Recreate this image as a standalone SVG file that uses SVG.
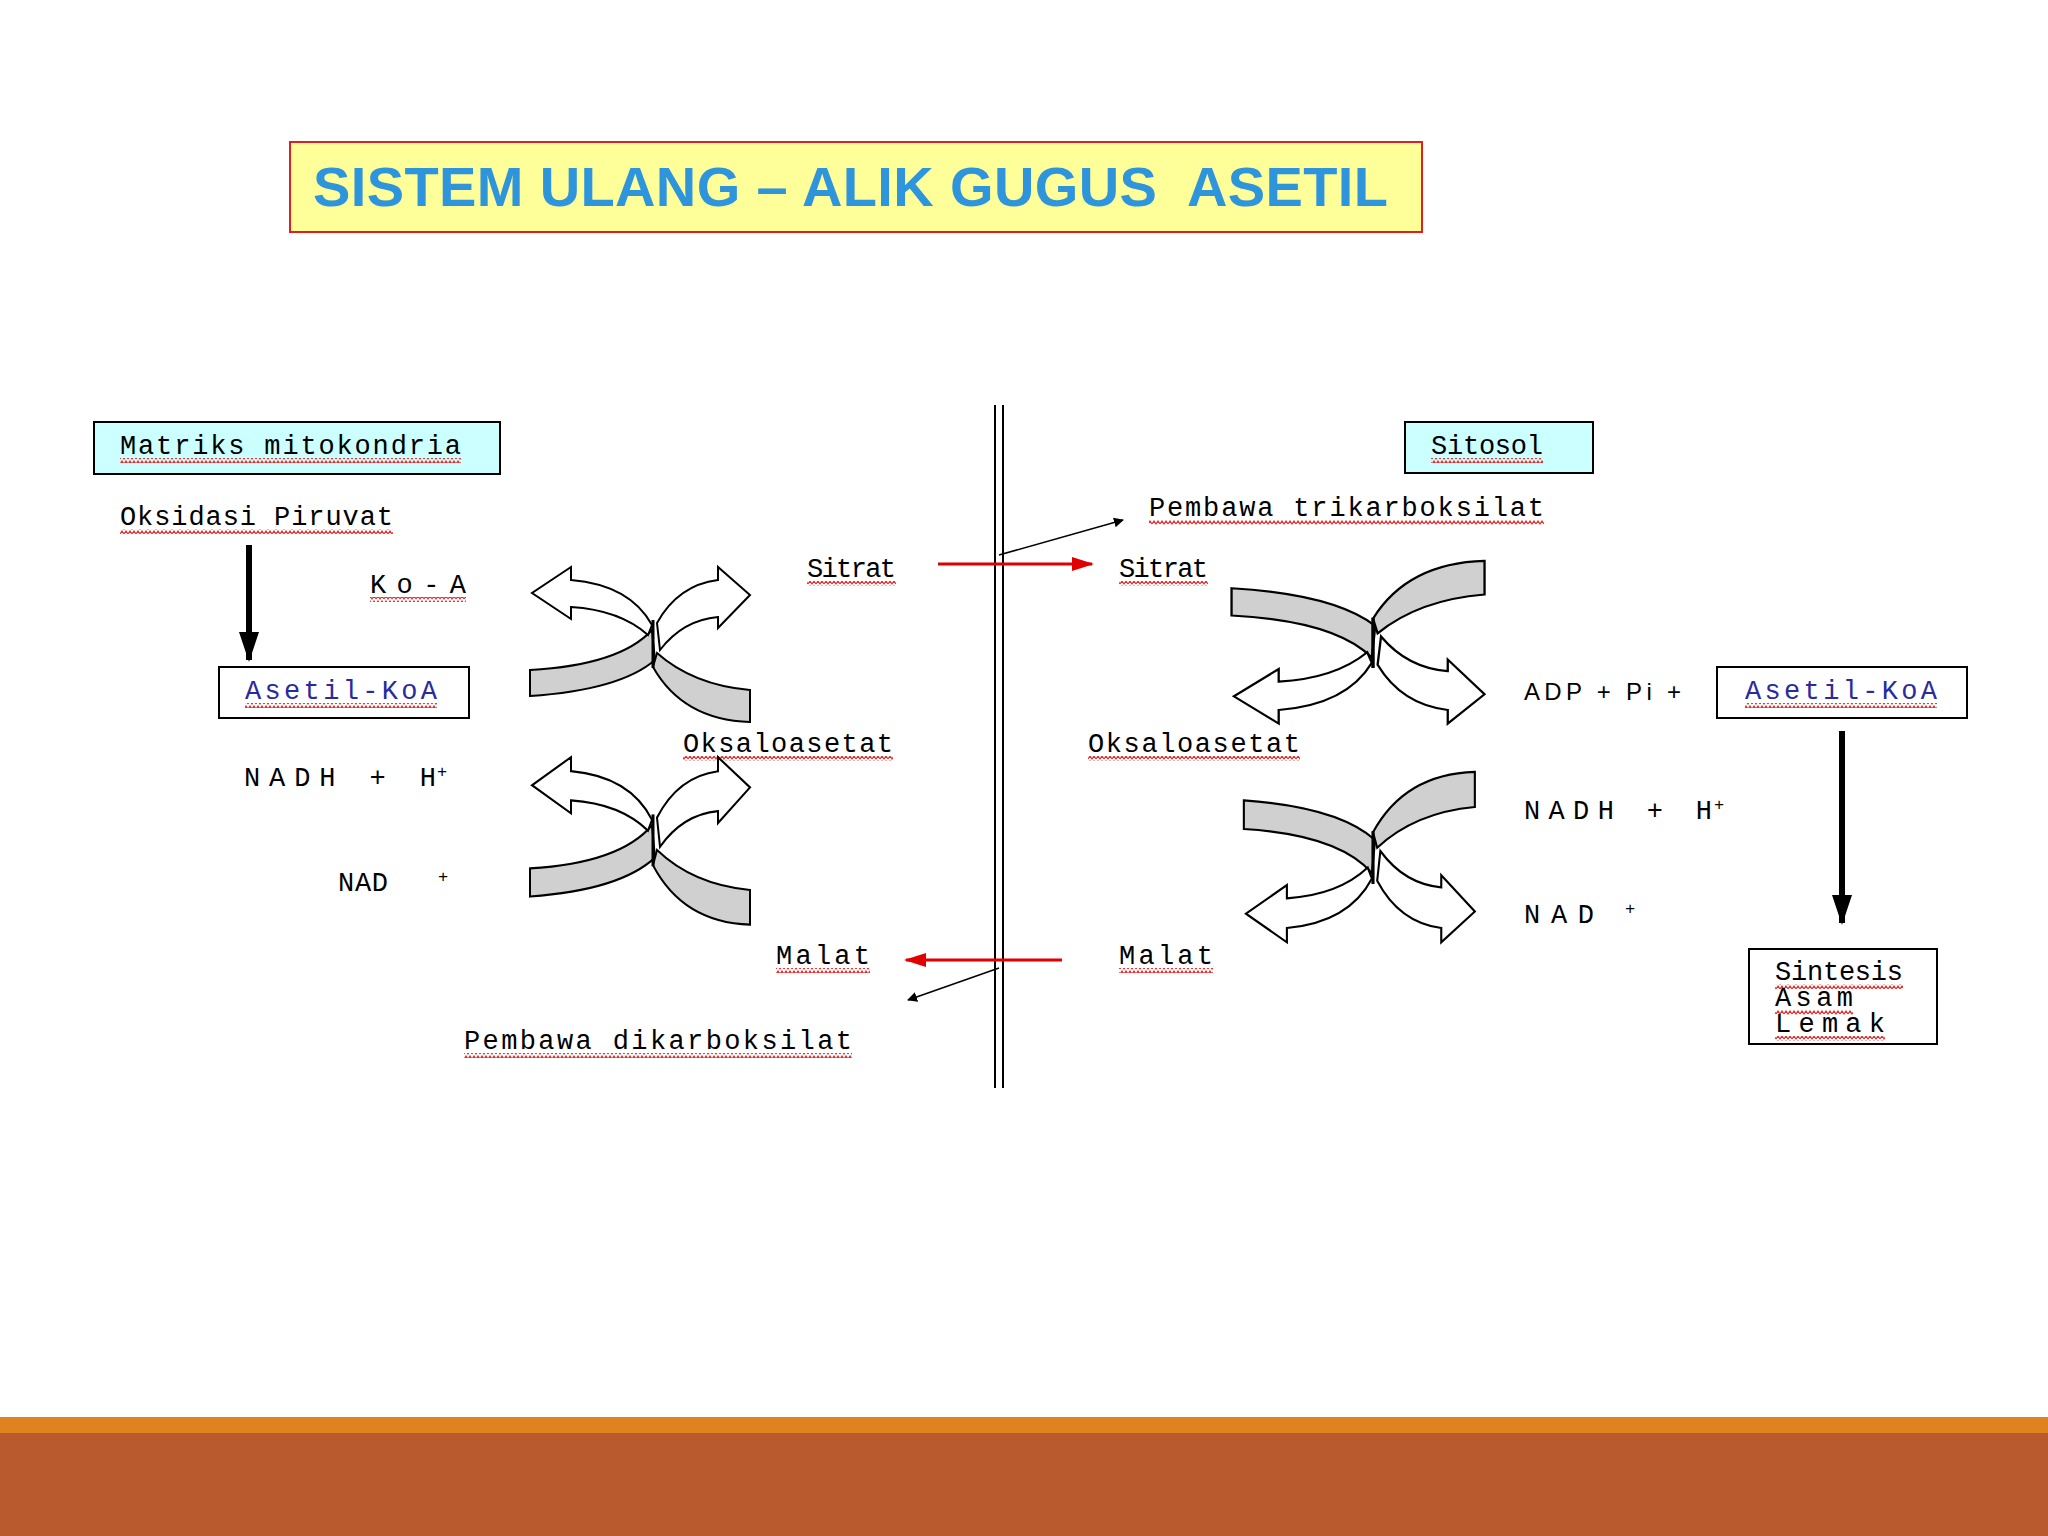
<svg xmlns="http://www.w3.org/2000/svg" width="2048" height="1536" viewBox="0 0 2048 1536">
<style>
.t{font-family:"Liberation Mono","DejaVu Sans Mono",monospace;font-size:27px;fill:#000}
.b{fill:#2a2aa0}
.p{font-family:"Liberation Mono","DejaVu Sans Mono",monospace;font-size:17px;fill:#000}
.s{font-family:"Liberation Sans",Arial,sans-serif;font-size:24px;fill:#000}
.box{fill:#ccffff;stroke:#000;stroke-width:2}
.wb{fill:#fff;stroke:#000;stroke-width:2}
.g{fill:#d0d0d0;stroke:#000;stroke-width:2}
.w{fill:#fff;stroke:#000;stroke-width:2}
.wv{fill:url(#wave)}
</style>
<defs>
<pattern id="wave" width="8" height="5" patternUnits="userSpaceOnUse">
<polyline points="0,4 2,1 4,4 6,1 8,4" fill="none" stroke="#e03030" stroke-width="1.2"/>
</pattern>
<marker id="ah" markerWidth="10" markerHeight="10" refX="9" refY="5" orient="auto" markerUnits="userSpaceOnUse"><path d="M0,0 L10,5 L0,10 Z" fill="#000"/></marker>
<marker id="ahb" markerWidth="30" markerHeight="20" refX="28" refY="10" orient="auto" markerUnits="userSpaceOnUse"><path d="M0,0 L30,10 L0,20 Z" fill="#000"/></marker>
<marker id="ahr" markerWidth="22" markerHeight="14" refX="20" refY="7" orient="auto" markerUnits="userSpaceOnUse"><path d="M0,0 L22,7 L0,14 Z" fill="#e00000"/></marker>
<g id="cross">
<path class="g" d="M -123,30 Q -33,25 -1,-10 L 2,20 Q -33,50 -123,56 Z"/>
<path class="w" d="M -1,-15 Q -23,-55 -82,-60 L -82,-73 L -121,-47 L -82,-21 L -82,-33 Q -33,-30 -5,-5 Z"/>
<path class="g" d="M 4,13 Q 40,45 97,50 L 97,82 Q 30,80 0,27 Z"/>
<path class="w" d="M 4,-17 Q 25,-55 65,-60 L 65,-73 L 97,-45 L 65,-12 L 65,-23 Q 30,-20 7,10 Z"/>
<line x1="0" y1="-20" x2="0" y2="28" stroke="#000" stroke-width="3"/>
</g>
</defs>
<rect width="2048" height="1536" fill="#fff"/>
<g id="title">
<rect x="290" y="142" width="1132" height="90" fill="#ffff99" stroke="#e02020" stroke-width="2"/>
<text x="313" y="206" font-family="Liberation Sans,Arial,sans-serif" font-weight="bold" font-size="56" fill="#2e95dc" textLength="1075">SISTEM ULANG – ALIK GUGUS&#160; ASETIL</text>
</g>
<g id="footer">
<rect x="0" y="1417" width="2048" height="16" fill="#e0821e"/>
<rect x="0" y="1433" width="2048" height="103" fill="#b95a2e"/>
</g>
<g id="membrane">
<line x1="995" y1="405" x2="995" y2="1088" stroke="#000" stroke-width="2"/>
<line x1="1003" y1="405" x2="1003" y2="1088" stroke="#000" stroke-width="2"/>
</g>
<g id="matriks"><rect class="box" x="94" y="422" width="406" height="52"/><text class="t" x="120" y="454" textLength="341">Matriks mitokondria</text><rect class="wv" x="120" y="458" width="341" height="5"/></g>
<g id="sitosol"><rect class="box" x="1405" y="422" width="188" height="51"/><text class="t" x="1431" y="454" textLength="112">Sitosol</text><rect class="wv" x="1431" y="458" width="112" height="5"/></g>
<g id="asetil-left"><rect class="wb" x="219" y="667" width="250" height="51"/><text class="t b" x="245" y="699" textLength="192">Asetil-KoA</text><rect class="wv" x="245" y="703" width="192" height="5"/></g>
<g id="asetil-right"><rect class="wb" x="1717" y="667" width="250" height="51"/><text class="t b" x="1745" y="699" textLength="192">Asetil-KoA</text><rect class="wv" x="1745" y="703" width="192" height="5"/></g>
<g id="sintesis"><rect class="wb" x="1749" y="949" width="188" height="95"/>
<text class="t" x="1775" y="980" textLength="128">Sintesis</text><rect class="wv" x="1775" y="984" width="128" height="5"/>
<text class="t" x="1775" y="1006" textLength="78">Asam</text><rect class="wv" x="1775" y="1010" width="78" height="5"/>
<text class="t" x="1775" y="1032" textLength="110">Lemak</text><rect class="wv" x="1775" y="1036" width="110" height="5"/></g>
<g id="labels">
<text class="t" x="120" y="525" textLength="273">Oksidasi Piruvat</text><rect class="wv" x="120" y="529" width="273" height="5"/>
<text class="t" x="370" y="593" textLength="96">Ko-A</text><rect class="wv" x="370" y="597" width="96" height="5"/>
<text class="t" x="807" y="577" textLength="89">Sitrat</text><rect class="wv" x="807" y="581" width="89" height="5"/>
<text class="t" x="1149" y="516" textLength="395">Pembawa trikarboksilat</text><rect class="wv" x="1149" y="520" width="395" height="5"/>
<text class="t" x="1119" y="577" textLength="89">Sitrat</text><rect class="wv" x="1119" y="581" width="89" height="5"/>
<text class="t" x="683" y="752" textLength="210">Oksaloasetat</text><rect class="wv" x="683" y="756" width="210" height="5"/>
<text class="t" x="1088" y="752" textLength="212">Oksaloasetat</text><rect class="wv" x="1088" y="756" width="212" height="5"/>
<text class="s" x="1524" y="700" textLength="157">ADP + Pi +</text>
<text class="t" x="244" y="786" textLength="192">NADH + H</text><text class="p" x="437" y="777">+</text>
<text class="t" x="338" y="891" textLength="50">NAD</text><text class="p" x="438" y="882">+</text>
<text class="t" x="1524" y="819" textLength="188">NADH + H</text><text class="p" x="1714" y="810">+</text>
<text class="t" x="1524" y="923" textLength="70">NAD</text><text class="p" x="1625" y="914">+</text>
<text class="t" x="776" y="964" textLength="94">Malat</text><rect class="wv" x="776" y="968" width="94" height="5"/>
<text class="t" x="1119" y="964" textLength="94">Malat</text><rect class="wv" x="1119" y="968" width="94" height="5"/>
<text class="t" x="464" y="1049" textLength="388">Pembawa dikarboksilat</text><rect class="wv" x="464" y="1053" width="388" height="5"/>
</g>
<g id="cycles">
<use href="#cross" transform="translate(653,640)"/>
<use href="#cross" transform="translate(653,836) scale(1,1.08)"/>
<use href="#cross" transform="translate(1373,647) scale(1.15,-1.05)"/>
<use href="#cross" transform="translate(1373,862) scale(1.05,-1.1)"/>
</g>
<g id="connectors">
<line x1="249" y1="545" x2="249" y2="660" stroke="#000" stroke-width="6" marker-end="url(#ahb)"/>
<line x1="1842" y1="731" x2="1842" y2="923" stroke="#000" stroke-width="6" marker-end="url(#ahb)"/>
<line x1="938" y1="564" x2="1092" y2="564" stroke="#e00000" stroke-width="3" marker-end="url(#ahr)"/>
<line x1="1062" y1="960" x2="906" y2="960" stroke="#e00000" stroke-width="3" marker-end="url(#ahr)"/>
<line x1="999" y1="555" x2="1123" y2="520" stroke="#000" stroke-width="1.5" marker-end="url(#ah)"/>
<line x1="999" y1="968" x2="908" y2="1000" stroke="#000" stroke-width="1.5" marker-end="url(#ah)"/>
</g>
</svg>
